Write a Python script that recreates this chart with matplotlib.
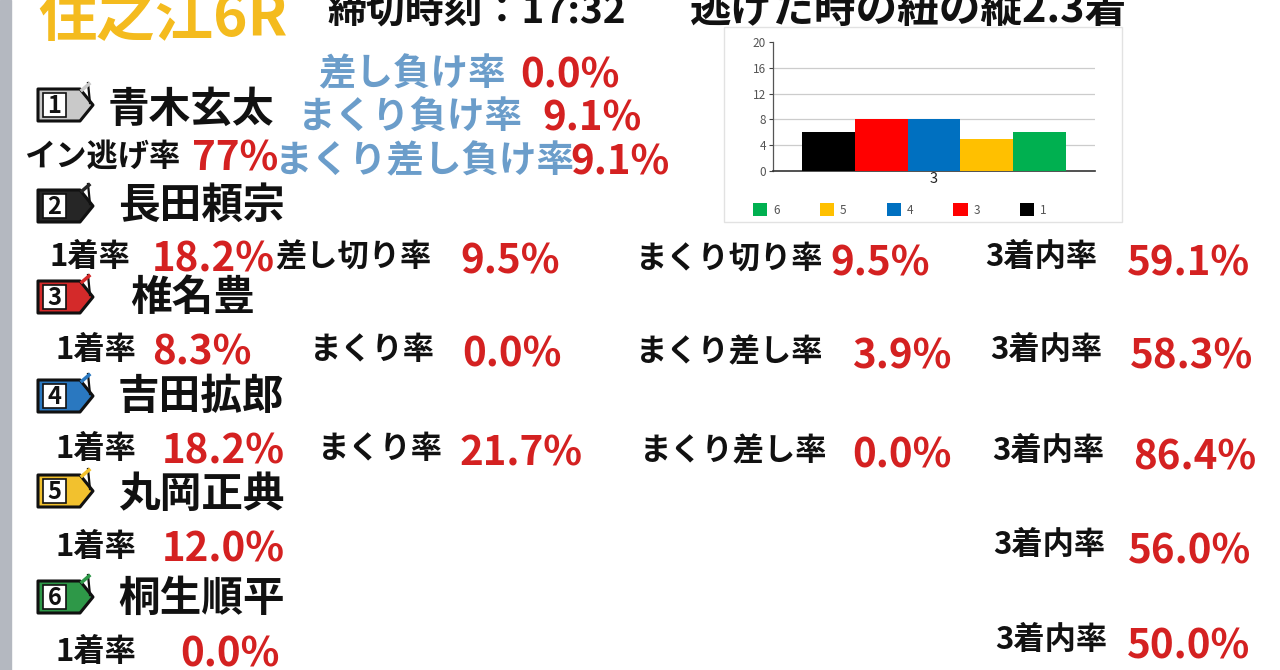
import matplotlib
matplotlib.use("Agg")
import matplotlib.pyplot as plt
from matplotlib.patches import Polygon, Rectangle

plt.rcParams['font.family'] = ['Noto Sans CJK JP', 'DejaVu Sans']

# ---------------- data ----------------
title = "住之江6R"
deadline = "締切時刻：17:32"
headline = "逃げた時の紐の縦2.3着"

boat_numbers = ['1', '2', '3', '4', '5', '6']
boat_colors = ['#c9c9c9', '#262626', '#d42a2a', '#2a78c0', '#f2c12e', '#2e9848']
racers = ['青木玄太', '長田頼宗', '椎名豊', '吉田拡郎', '丸岡正典', '桐生順平']

in_nige_label = 'イン逃げ率'
in_nige_value = '77%'
lose_labels = ['差し負け率', 'まくり負け率', 'まくり差し負け率']
lose_values = ['0.0%', '9.1%', '9.1%']

win_label = '1着率'
win_rates = [None, '18.2%', '8.3%', '18.2%', '12.0%', '0.0%']
top3_label = '3着内率'
top3_rates = [None, '59.1%', '58.3%', '86.4%', '56.0%', '50.0%']
mid1_labels = [None, '差し切り率', 'まくり率', 'まくり率', None, None]
mid1_values = [None, '9.5%', '0.0%', '21.7%', None, None]
mid2_labels = [None, 'まくり切り率', 'まくり差し率', 'まくり差し率', None, None]
mid2_values = [None, '9.5%', '3.9%', '0.0%', None, None]

# inset chart
chart_category = '3'
series_names = ['1', '3', '4', '5', '6']
series_values = [6, 8, 8, 5, 6]
series_colors = ['#000000', '#ff0000', '#0070c0', '#ffc000', '#00b050']
y_ticks = [0, 4, 8, 12, 16, 20]

# ---------------- figure ----------------
fig = plt.figure(figsize=(12.8, 6.7), dpi=100)
bg = fig.add_axes([0, 0, 1, 1])
bg.set_xlim(0, 1280)
bg.set_ylim(670, 0)
bg.axis('off')

RED = '#d42121'
BLUE = '#6b9dca'
BLACK = '#111111'
LBL = 22.5

bg.add_patch(Rectangle((0, 0), 11, 670, color='#b4b8c0', zorder=1))

bg.text(38, 36, title, fontsize=42, fontweight='bold', color='#f4bb1e', va='baseline')
bg.text(328, 22, deadline, fontsize=28, fontweight='bold', color=BLACK, va='baseline')
bg.text(690, 22, headline, fontsize=30, fontweight='bold', color=BLACK, va='baseline')


def boat_icon(x0, yc, num, color):
    h = 32
    y0 = yc - h / 2
    poly = Polygon([(x0, y0), (x0 + 42, y0), (x0 + 55, yc), (x0 + 42, y0 + h), (x0, y0 + h)],
                   closed=True, facecolor=color, edgecolor='#111111', lw=2.2,
                   joinstyle='round', zorder=3)
    bg.add_patch(poly)
    bg.add_patch(Rectangle((x0 + 5, y0 + 4), 23, h - 8, facecolor='white',
                           edgecolor='#111111', lw=1.2, zorder=4))
    bg.plot([x0 + 50, x0 + 52], [y0 - 6, yc - 2], color='#111111', lw=1.6, zorder=4)
    bg.plot([x0 + 44, x0 + 51], [y0 + 1, y0 - 5], color=color, lw=2.5, zorder=4)
    bg.text(x0 + 16.5, yc + 1, num, fontsize=17, fontweight='bold', color='#111111',
            ha='center', va='center', zorder=5)


icon_x = [38, 38, 38, 38, 38, 38]
icon_y = [105, 206, 297, 396, 491, 597]
name_x = [108, 118, 130, 118, 118, 118]
name_y = [110, 206, 298, 397, 495, 599]
for i in range(6):
    boat_icon(icon_x[i], icon_y[i], boat_numbers[i], boat_colors[i])
    bg.text(name_x[i], name_y[i], racers[i], fontsize=30, fontweight='bold',
            color=BLACK, va='center')

# boat 1 special stats
bg.text(24, 157, in_nige_label, fontsize=LBL, fontweight='bold', color=BLACK, va='center')
bg.text(192, 159, in_nige_value, fontsize=29, fontweight='bold', color=RED, va='center')
lose_lx = [318, 298, 275]
lose_ly = [74, 117, 161]
lose_vx = [520, 542, 570]
lose_vy = [76, 119, 163]
for i in range(3):
    bg.text(lose_lx[i], lose_ly[i], lose_labels[i], fontsize=27, fontweight='bold',
            color=BLUE, va='center')
    bg.text(lose_vx[i], lose_vy[i], lose_values[i], fontsize=29, fontweight='bold',
            color=RED, va='center')

# rows for boats 2-6
row_y = [None, 257, 350, 449, 547, 652]
win_lx = [None, 50, 55, 55, 55, 55]
win_vx = [None, 152, 152, 162, 162, 180]
mid1_lx = [None, 275, 310, 318, None, None]
mid1_vx = [None, 460, 462, 460, None, None]
mid2_lx = [None, 636, 636, 640, None, None]
mid2_vx = [None, 830, 852, 852, None, None]
top_lx = [None, 985, 990, 992, 993, 995]
top_vx = [None, 1127, 1130, 1133, 1128, 1127]
top_dy = [None, 0, 0, 2, -2, -12]

for i in range(1, 6):
    y = row_y[i]
    bg.text(win_lx[i], y, win_label, fontsize=LBL, fontweight='bold', color=BLACK, va='center')
    bg.text(win_vx[i], y + 3, win_rates[i], fontsize=29, fontweight='bold', color=RED, va='center')
    if mid1_labels[i]:
        bg.text(mid1_lx[i], y, mid1_labels[i], fontsize=LBL, fontweight='bold', color=BLACK, va='center')
        bg.text(mid1_vx[i], y + 5, mid1_values[i], fontsize=29, fontweight='bold', color=RED, va='center')
    if mid2_labels[i]:
        bg.text(mid2_lx[i], y + 2, mid2_labels[i], fontsize=LBL, fontweight='bold', color=BLACK, va='center')
        bg.text(mid2_vx[i], y + 7, mid2_values[i], fontsize=29, fontweight='bold', color=RED, va='center')
    bg.text(top_lx[i], y + top_dy[i], top3_label, fontsize=LBL, fontweight='bold', color=BLACK, va='center')
    bg.text(top_vx[i], y + top_dy[i] + 7, top3_rates[i], fontsize=29, fontweight='bold', color=RED, va='center')

# inset chart frame
bg.add_patch(Rectangle((724, 27), 398, 195, facecolor='white', edgecolor='#e2e2e2',
                       lw=1.0, zorder=2))

ax = fig.add_axes([773 / 1280, 1 - 171 / 670, 322 / 1280, 129 / 670])
ax.set_facecolor('none')
bw = 0.2
n = len(series_values)
for k in range(n):
    ax.bar(0 + (k - (n - 1) / 2) * bw, series_values[k], width=bw,
           color=series_colors[k], label=series_names[k], zorder=3)
ax.set_xlim(-0.61, 0.61)
ax.set_ylim(0, 20)
ax.set_yticks(y_ticks)
ax.set_yticklabels([str(v) for v in y_ticks], fontsize=8.5, color='#555555')
ax.set_xticks([0])
ax.set_xticklabels([chart_category], fontsize=10.5, color='#222222')
ax.tick_params(axis='x', length=0, pad=1)
ax.tick_params(axis='y', length=3, width=0.8, color='#444444', pad=2)
ax.yaxis.grid(True, color='#cccccc', lw=0.9, zorder=0)
gl = ax.get_ygridlines()
gl[0].set_visible(False)
gl[-1].set_visible(False)
for s in ['top', 'right']:
    ax.spines[s].set_visible(False)
ax.spines['left'].set_color('#555555')
ax.spines['left'].set_linewidth(0.9)
ax.spines['bottom'].set_color('#333333')
ax.spines['bottom'].set_linewidth(1.2)

handles, labels = ax.get_legend_handles_labels()
leg = fig.legend(handles[::-1], labels[::-1], loc='center',
                 bbox_to_anchor=(900 / 1280, 1 - 210 / 670), ncol=5, frameon=False,
                 fontsize=8.5, handlelength=1.2, handleheight=1.2, handletextpad=0.5,
                 columnspacing=3.4, labelcolor='#555555')

fig.savefig('out.png', dpi=100, facecolor='white')
